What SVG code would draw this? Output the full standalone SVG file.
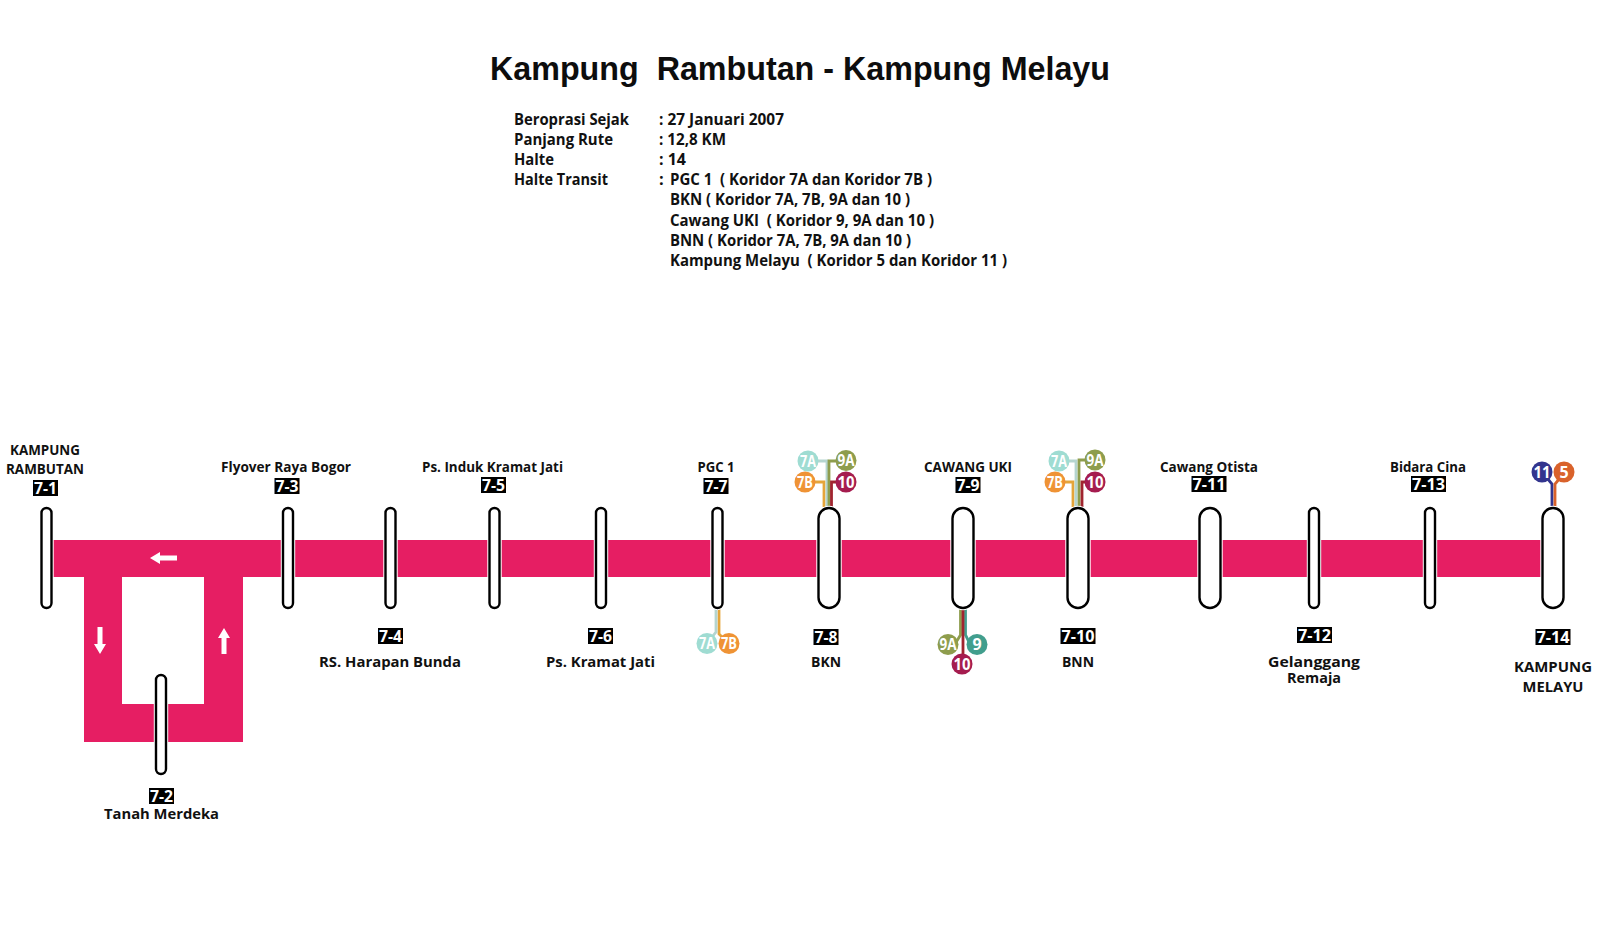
<svg xmlns="http://www.w3.org/2000/svg" width="1600" height="952" viewBox="0 0 1600 952">
<style>
text{font-family:"Open Sans","Noto Sans","Liberation Sans",sans-serif;font-weight:700;fill:#111;white-space:pre}
.title{font-family:"Liberation Sans",Arial,sans-serif;font-size:34px;fill:#0d0d0d}
.info{font-size:16.500px}
.lab{font-size:15px;text-anchor:middle}
.badge{fill:#000}
.bt{font-size:16px;fill:#fff;text-anchor:middle}
.halo{fill:#fff;stroke:#fff;stroke-width:4.400}
.cap{fill:#fff;stroke:#000;stroke-width:2.400}
.ct{font-size:16px;fill:#fff;text-anchor:middle}
.line{fill:none;stroke-width:2.800}
.road{fill:#e61e63}
.arr{fill:#fff}
.c7a{fill:#9fdcd2}.c7b{fill:#ef9335}.c9a{fill:#8e9d4d}.c10{fill:#a51c4f}.c9{fill:#419e8d}.c11{fill:#33358e}.c5{fill:#d9622b}
.l7a{stroke:#b5d5cf}.l7b{stroke:#e5a53a}.l9a{stroke:#8e9d4d}.l10{stroke:#a0242f}.l9{stroke:#419e8d}.l11{stroke:#33358e}.l5{stroke:#d9622b}
</style>

<g id="header">
<text class="title" x="490" y="80" textLength="620" lengthAdjust="spacingAndGlyphs">Kampung  Rambutan - Kampung Melayu</text>
<text class="info" x="514" y="124.500" textLength="115" lengthAdjust="spacingAndGlyphs">Beroprasi Sejak</text>
<text class="info" x="659" y="124.500" textLength="125" lengthAdjust="spacingAndGlyphs">: 27 Januari 2007</text>
<text class="info" x="514" y="144.500" textLength="99" lengthAdjust="spacingAndGlyphs">Panjang Rute</text>
<text class="info" x="659" y="144.500" textLength="67" lengthAdjust="spacingAndGlyphs">: 12,8 KM</text>
<text class="info" x="514" y="164.500" textLength="40" lengthAdjust="spacingAndGlyphs">Halte</text>
<text class="info" x="659" y="164.500" textLength="27" lengthAdjust="spacingAndGlyphs">: 14</text>
<text class="info" x="514" y="184.500" textLength="94" lengthAdjust="spacingAndGlyphs">Halte Transit</text>
<text class="info" x="659" y="184.500">:</text>
<text class="info" x="670" y="184.500" textLength="262" lengthAdjust="spacingAndGlyphs">PGC 1  ( Koridor 7A dan Koridor 7B )</text>
<text class="info" x="670" y="205" textLength="240" lengthAdjust="spacingAndGlyphs">BKN ( Koridor 7A, 7B, 9A dan 10 )</text>
<text class="info" x="670" y="225.500" textLength="264" lengthAdjust="spacingAndGlyphs">Cawang UKI  ( Koridor 9, 9A dan 10 )</text>
<text class="info" x="670" y="246" textLength="241" lengthAdjust="spacingAndGlyphs">BNN ( Koridor 7A, 7B, 9A dan 10 )</text>
<text class="info" x="670" y="266" textLength="337" lengthAdjust="spacingAndGlyphs">Kampung Melayu  ( Koridor 5 dan Koridor 11 )</text>
</g>

<g id="route">
<path class="road" d="M50 540H1545V577H243V742H84V577H50ZM122 577V704H204V577Z" fill-rule="evenodd"/>
<path class="arr" d="M150 558l10-6v3.500h17v5h-17v3.500z"/>
<path class="arr" d="M100 654l-6-10h3.500v-17h5v17h3.500z"/>
<path class="arr" d="M224 628l6 10h-3.500v16h-5v-16h-3.500z"/>
</g>

<g id="connectors">
<path class="line l7b" d="M719 609V634L727 642"/>
<path class="line l7a" d="M716 609V632L708 642"/>
<path class="line l7b" d="M815 482H824V507"/>
<path class="line l7a" d="M818 461H827V507"/>
<path class="line l9a" d="M836 461H829V507"/>
<path class="line l10" d="M837 482H831.500V507"/>
<path class="line l9a" d="M960.500 609V635L955 644"/>
<path class="line l9" d="M965.500 609V635L970 644"/>
<path class="line l10" d="M963 609V654"/>
<path class="line l7b" d="M1065 482H1073V507"/>
<path class="line l7a" d="M1069 461H1076V507"/>
<path class="line l9a" d="M1085 460H1079V507"/>
<path class="line l10" d="M1086 482H1082V507"/>
<path class="line l11" d="M1552 507V484L1547 478"/>
<path class="line l5" d="M1555 507V484L1560 478"/>
</g>

<g id="station-7-1">
<rect class="halo" x="41.500" y="508" width="10" height="100" rx="5"/><rect class="cap" x="41.500" y="508" width="10" height="100" rx="5"/>
<text class="lab" x="45" y="455" textLength="70" lengthAdjust="spacingAndGlyphs">KAMPUNG</text>
<text class="lab" x="45" y="474" textLength="78" lengthAdjust="spacingAndGlyphs">RAMBUTAN</text>
<rect class="badge" x="33" y="480" width="25" height="16"/><text class="bt" x="45.500" y="494" textLength="23" lengthAdjust="spacingAndGlyphs">7-1</text>
</g>
<g id="station-7-2">
<rect class="halo" x="156" y="675" width="10" height="99" rx="5"/><rect class="cap" x="156" y="675" width="10" height="99" rx="5"/>
<rect class="badge" x="149" y="788" width="25" height="16"/><text class="bt" x="161.500" y="802" textLength="23" lengthAdjust="spacingAndGlyphs">7-2</text>
<text class="lab" x="161.500" y="819" textLength="115" lengthAdjust="spacingAndGlyphs">Tanah Merdeka</text>
</g>
<g id="station-7-3">
<rect class="halo" x="283" y="508" width="10" height="100" rx="5"/><rect class="cap" x="283" y="508" width="10" height="100" rx="5"/>
<text class="lab" x="286" y="472" textLength="130" lengthAdjust="spacingAndGlyphs">Flyover Raya Bogor</text>
<rect class="badge" x="274.500" y="478" width="25" height="16"/><text class="bt" x="287" y="492" textLength="23" lengthAdjust="spacingAndGlyphs">7-3</text>
</g>
<g id="station-7-4">
<rect class="halo" x="385.500" y="508" width="10" height="100" rx="5"/><rect class="cap" x="385.500" y="508" width="10" height="100" rx="5"/>
<rect class="badge" x="378" y="628" width="25" height="16"/><text class="bt" x="390.500" y="642" textLength="23" lengthAdjust="spacingAndGlyphs">7-4</text>
<text class="lab" x="390" y="667" textLength="142" lengthAdjust="spacingAndGlyphs">RS. Harapan Bunda</text>
</g>
<g id="station-7-5">
<rect class="halo" x="489.500" y="508" width="10" height="100" rx="5"/><rect class="cap" x="489.500" y="508" width="10" height="100" rx="5"/>
<text class="lab" x="492.500" y="472" textLength="141" lengthAdjust="spacingAndGlyphs">Ps. Induk Kramat Jati</text>
<rect class="badge" x="481" y="477" width="25" height="16"/><text class="bt" x="493.500" y="491" textLength="23" lengthAdjust="spacingAndGlyphs">7-5</text>
</g>
<g id="station-7-6">
<rect class="halo" x="596" y="508" width="10" height="100" rx="5"/><rect class="cap" x="596" y="508" width="10" height="100" rx="5"/>
<rect class="badge" x="588" y="628" width="25" height="16"/><text class="bt" x="600.500" y="642" textLength="23" lengthAdjust="spacingAndGlyphs">7-6</text>
<text class="lab" x="600.500" y="667" textLength="109" lengthAdjust="spacingAndGlyphs">Ps. Kramat Jati</text>
</g>
<g id="station-7-7">
<rect class="halo" x="712.500" y="508" width="10" height="100" rx="5"/><rect class="cap" x="712.500" y="508" width="10" height="100" rx="5"/>
<text class="lab" x="716" y="472" textLength="37" lengthAdjust="spacingAndGlyphs">PGC 1</text>
<rect class="badge" x="703.500" y="478" width="25" height="16"/><text class="bt" x="716" y="492" textLength="23" lengthAdjust="spacingAndGlyphs">7-7</text>
<g><circle class="c7a" cx="707" cy="643.500" r="10.500"/><text class="ct" x="707" y="649" textLength="16" lengthAdjust="spacingAndGlyphs">7A</text></g>
<g><circle class="c7b" cx="729" cy="643.500" r="10.500"/><text class="ct" x="729" y="649" textLength="16" lengthAdjust="spacingAndGlyphs">7B</text></g>
</g>
<g id="station-7-8">
<rect class="halo" x="818.500" y="508" width="21" height="100" rx="10.500"/><rect class="cap" x="818.500" y="508" width="21" height="100" rx="10.500"/>
<g><circle class="c7a" cx="808" cy="461" r="10.500"/><text class="ct" x="808" y="466.500" textLength="16" lengthAdjust="spacingAndGlyphs">7A</text></g>
<g><circle class="c9a" cx="846" cy="460.500" r="10.500"/><text class="ct" x="846" y="466" textLength="17" lengthAdjust="spacingAndGlyphs">9A</text></g>
<g><circle class="c7b" cx="805" cy="482" r="10.500"/><text class="ct" x="805" y="487.500" textLength="16" lengthAdjust="spacingAndGlyphs">7B</text></g>
<g><circle class="c10" cx="846" cy="482" r="10.500"/><text class="ct" x="846" y="487.500" textLength="17" lengthAdjust="spacingAndGlyphs">10</text></g>
<rect class="badge" x="813.500" y="629" width="25" height="16"/><text class="bt" x="826" y="643" textLength="23" lengthAdjust="spacingAndGlyphs">7-8</text>
<text class="lab" x="826" y="667" textLength="30" lengthAdjust="spacingAndGlyphs">BKN</text>
</g>
<g id="station-7-9">
<rect class="halo" x="952.500" y="508" width="21" height="100" rx="10.500"/><rect class="cap" x="952.500" y="508" width="21" height="100" rx="10.500"/>
<text class="lab" x="968" y="472" textLength="88" lengthAdjust="spacingAndGlyphs">CAWANG UKI</text>
<rect class="badge" x="955.500" y="477" width="25" height="16"/><text class="bt" x="968" y="491" textLength="23" lengthAdjust="spacingAndGlyphs">7-9</text>
<g><circle class="c9a" cx="948" cy="644.500" r="10.500"/><text class="ct" x="948" y="650" textLength="17" lengthAdjust="spacingAndGlyphs">9A</text></g>
<g><circle class="c9" cx="977" cy="644.500" r="10.500"/><text class="ct" x="977" y="650">9</text></g>
<g><circle class="c10" cx="962" cy="664" r="10.500"/><text class="ct" x="962" y="669.500" textLength="17" lengthAdjust="spacingAndGlyphs">10</text></g>
</g>
<g id="station-7-10">
<rect class="halo" x="1067.500" y="508" width="21" height="100" rx="10.500"/><rect class="cap" x="1067.500" y="508" width="21" height="100" rx="10.500"/>
<g><circle class="c7a" cx="1059" cy="461" r="10.500"/><text class="ct" x="1059" y="466.500" textLength="16" lengthAdjust="spacingAndGlyphs">7A</text></g>
<g><circle class="c9a" cx="1095" cy="460" r="10.500"/><text class="ct" x="1095" y="465.500" textLength="17" lengthAdjust="spacingAndGlyphs">9A</text></g>
<g><circle class="c7b" cx="1055" cy="482" r="10.500"/><text class="ct" x="1055" y="487.500" textLength="16" lengthAdjust="spacingAndGlyphs">7B</text></g>
<g><circle class="c10" cx="1095" cy="482" r="10.500"/><text class="ct" x="1095" y="487.500" textLength="17" lengthAdjust="spacingAndGlyphs">10</text></g>
<rect class="badge" x="1060.500" y="628" width="35" height="16"/><text class="bt" x="1078" y="642" textLength="33" lengthAdjust="spacingAndGlyphs">7-10</text>
<text class="lab" x="1078" y="667" textLength="32" lengthAdjust="spacingAndGlyphs">BNN</text>
</g>
<g id="station-7-11">
<rect class="halo" x="1199.500" y="508" width="21" height="100" rx="10.500"/><rect class="cap" x="1199.500" y="508" width="21" height="100" rx="10.500"/>
<text class="lab" x="1209" y="472" textLength="98" lengthAdjust="spacingAndGlyphs">Cawang Otista</text>
<rect class="badge" x="1191.500" y="476" width="35" height="16"/><text class="bt" x="1209" y="490" textLength="33" lengthAdjust="spacingAndGlyphs">7-11</text>
</g>
<g id="station-7-12">
<rect class="halo" x="1309" y="508" width="10" height="100" rx="5"/><rect class="cap" x="1309" y="508" width="10" height="100" rx="5"/>
<rect class="badge" x="1297" y="627" width="35" height="16"/><text class="bt" x="1314.500" y="641" textLength="33" lengthAdjust="spacingAndGlyphs">7-12</text>
<text class="lab" x="1314" y="667" textLength="92" lengthAdjust="spacingAndGlyphs">Gelanggang</text>
<text class="lab" x="1314" y="683" textLength="54" lengthAdjust="spacingAndGlyphs">Remaja</text>
</g>
<g id="station-7-13">
<rect class="halo" x="1425" y="508" width="10" height="100" rx="5"/><rect class="cap" x="1425" y="508" width="10" height="100" rx="5"/>
<text class="lab" x="1428" y="472" textLength="76" lengthAdjust="spacingAndGlyphs">Bidara Cina</text>
<rect class="badge" x="1411" y="476" width="35" height="16"/><text class="bt" x="1428.500" y="490" textLength="33" lengthAdjust="spacingAndGlyphs">7-13</text>
</g>
<g id="station-7-14">
<rect class="halo" x="1542.500" y="508" width="21" height="100" rx="10.500"/><rect class="cap" x="1542.500" y="508" width="21" height="100" rx="10.500"/>
<g><circle class="c11" cx="1542" cy="472" r="10.500"/><text class="ct" x="1542" y="477.500" textLength="17" lengthAdjust="spacingAndGlyphs">11</text></g>
<g><circle class="c5" cx="1564" cy="472" r="10.500"/><text class="ct" x="1564" y="477.500">5</text></g>
<rect class="badge" x="1535.500" y="629" width="35" height="16"/><text class="bt" x="1553" y="643" textLength="33" lengthAdjust="spacingAndGlyphs">7-14</text>
<text class="lab" x="1553" y="672" textLength="78" lengthAdjust="spacingAndGlyphs">KAMPUNG</text>
<text class="lab" x="1553" y="692" textLength="61" lengthAdjust="spacingAndGlyphs">MELAYU</text>
</g>
</svg>
